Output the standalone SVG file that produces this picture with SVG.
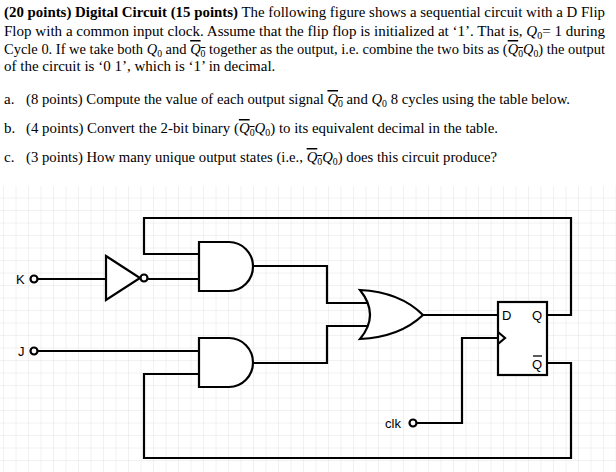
<svg xmlns="http://www.w3.org/2000/svg" width="616" height="472" viewBox="0 0 616 472">
<defs>
<pattern id="grid" width="12.5" height="12.5" patternUnits="userSpaceOnUse" x="4" y="186">
<path d="M12.5 0V12.5H0" fill="none" stroke="#e4e4e4" stroke-width="1"/>
</pattern>
</defs>
<style>
.t{font-family:"Liberation Serif",serif;font-size:15px;fill:#000}
.w{fill:none;stroke:#000;stroke-width:2.2}
.g{fill:#fff;stroke:#000;stroke-width:2.2}
.l{font-family:"Liberation Sans",sans-serif;font-size:13px;fill:#000}
.q{font-style:italic}
.o{text-decoration:overline}
</style>
<rect width="616" height="472" fill="#fff"/>
<rect x="0" y="186" width="616" height="286" fill="url(#grid)"/>
<g id="text">
<text class="t" x="4" y="17" textLength="601" lengthAdjust="spacingAndGlyphs"><tspan font-weight="bold">(20 points) Digital Circuit (15 points)</tspan> The following figure shows a sequential circuit with a D Flip</text>
<text class="t" x="4" y="36" textLength="601" lengthAdjust="spacingAndGlyphs">Flop with a common input clock. Assume that the flip flop is initialized at ‘1’. That is, <tspan class="q">Q</tspan><tspan font-size="10" dy="3">0</tspan><tspan dy="-3">= 1 during</tspan></text>
<text class="t" x="4" y="54" textLength="601" lengthAdjust="spacingAndGlyphs">Cycle 0. If we take both <tspan class="q">Q</tspan><tspan font-size="10" dy="3">0</tspan><tspan dy="-3"> and </tspan><tspan class="q o">Q</tspan><tspan class="o" font-size="10" dy="3">0</tspan><tspan dy="-3"> together as the output, i.e. combine the two bits as (</tspan><tspan class="q o">Q</tspan><tspan class="o" font-size="10" dy="3">0</tspan><tspan class="q" dy="-3">Q</tspan><tspan font-size="10" dy="3">0</tspan><tspan dy="-3">) the output</tspan></text>
<text class="t" x="4" y="71">of the circuit is ‘0 1’, which is ‘1’ in decimal.</text>
<text class="t" x="4" y="104">a.</text>
<text class="t" x="26" y="104" textLength="544" lengthAdjust="spacingAndGlyphs">(8 points) Compute the value of each output signal <tspan class="q o">Q</tspan><tspan class="o" font-size="10" dy="3">0</tspan><tspan dy="-3"> and </tspan><tspan class="q">Q</tspan><tspan font-size="10" dy="3">0</tspan><tspan dy="-3"> 8 cycles using the table below.</tspan></text>
<text class="t" x="4" y="133">b.</text>
<text class="t" x="26" y="133" textLength="472" lengthAdjust="spacingAndGlyphs">(4 points) Convert the 2-bit binary (<tspan class="q o">Q</tspan><tspan class="o" font-size="10" dy="3">0</tspan><tspan class="q" dy="-3">Q</tspan><tspan font-size="10" dy="3">0</tspan><tspan dy="-3">) to its equivalent decimal in the table.</tspan></text>
<text class="t" x="4" y="162">c.</text>
<text class="t" x="26" y="162" textLength="471" lengthAdjust="spacingAndGlyphs">(3 points) How many unique output states (i.e., <tspan class="q o">Q</tspan><tspan class="o" font-size="10" dy="3">0</tspan><tspan class="q" dy="-3">Q</tspan><tspan font-size="10" dy="3">0</tspan><tspan dy="-3">) does this circuit produce?</tspan></text>
</g>
<g id="connectors">
<path class="w" d="M38 279H106M148 279H199"/>
<path class="w" d="M199 254H144V218H571V315H547"/>
<path class="w" d="M38 351H199"/>
<path class="w" d="M199 374H144V458H571V363H547"/>
<path class="w" d="M253 266H327V303H370"/>
<path class="w" d="M253 363H327V326H370"/>
<path class="w" d="M423 315H498"/>
<path class="w" d="M417 423H462V338H498"/>
</g>
<g id="K"><circle class="g" cx="34" cy="279" r="3.5"/><text class="l" x="16" y="284">K</text></g>
<g id="J"><circle class="g" cx="34" cy="351" r="3.5"/><text class="l" x="18" y="356">J</text></g>
<g id="clk"><circle class="g" cx="413" cy="423" r="3.5"/><text class="l" x="385" y="428">clk</text></g>
<g id="not"><path class="g" d="M106 256L140 278L106 300Z"/><circle class="g" cx="144" cy="278" r="3.5"/></g>
<g id="and1"><path class="g" d="M199 242H229A24 24.5 0 0 1 229 291H199Z"/></g>
<g id="and2"><path class="g" d="M199 338H229A24 24.5 0 0 1 229 387H199Z"/></g>
<g id="or"><path class="g" d="M360 290Q400 292 423 315Q400 337 360 339Q380 315 360 290Z"/></g>
<g id="dff">
<rect class="g" x="498" y="302" width="49" height="73"/>
<path class="w" d="M498 332L505 338L498 344" stroke-width="1.6"/>
<text class="l" x="502" y="320">D</text>
<text class="l" x="532" y="320">Q</text>
<text class="l" x="532" y="369">Q</text>
<path d="M533 356H542" stroke="#000" stroke-width="1.3"/>
</g>
</svg>
